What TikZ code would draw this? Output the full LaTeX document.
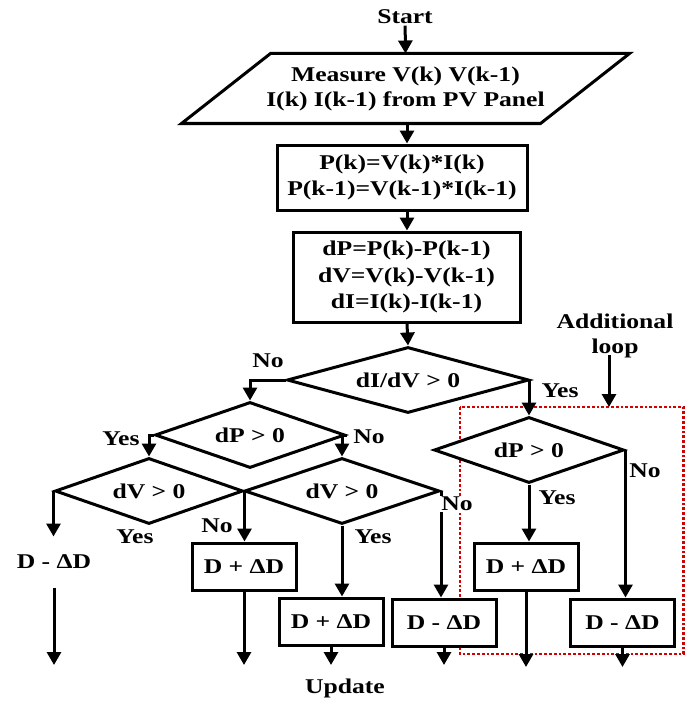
\documentclass[tikz,border=0pt]{standalone}
\usepackage{fontspec}
\setmainfont[FakeStretch=1.22]{Liberation Serif}
\usepackage{xcolor}
\usetikzlibrary{arrows.meta,shapes.geometric}
\definecolor{loopred}{RGB}{210,0,0}

\begin{document}
\begin{tikzpicture}[x=1pt, y=-1pt, line width=3pt,
  font=\fontsize{21}{26.5}\selectfont\bfseries,
  >={Triangle[width=14pt,length=13pt]},
  txt/.style={inner sep=0pt, align=center},
  procbox/.style={draw, fill=white, align=center, inner sep=0pt},
  decision/.style={draw, diamond, fill=white, inner sep=0pt, aspect=3, minimum height=66pt},
  dbox/.style={procbox, minimum width=104pt, minimum height=47pt}]
  \useasboundingbox (0,0) rectangle (685,706);

  \draw [loopred, line width=2.8pt, dash pattern=on 2.8pt off 2pt]
    (460,407) rectangle (683.5,654);

  \coordinate (axis) at (407,0);
  \coordinate (ground) at (0,665);
  \coordinate (ground2) at (0,667);
  \coordinate (loopin) at (609,407);

  \node [txt] (start) at (405,17) {Start};
  \node [txt, minimum width=445pt, minimum height=67pt] (meas) at (405.5,88.5)
    {Measure V(k) V(k-1)\\[-1.5pt]I(k) I(k-1) from PV Panel};
  \draw (meas.south west) -- ([xshift=89pt]meas.north west)
    -- (meas.north east) -- ([xshift=-89pt]meas.south east) -- cycle;
  \node [procbox, minimum width=250pt, minimum height=65pt] (pw) at (402,177.5)
    {P(k)=V(k)*I(k)\\P(k-1)=V(k-1)*I(k-1)};
  \node [procbox, minimum width=227pt, minimum height=90pt] (dd) at (406.5,277)
    {dP=P(k)-P(k-1)\\dV=V(k)-V(k-1)\\dI=I(k)-I(k-1)};

  \node [decision, minimum width=242pt] (d1) at (408,380) {dI/dV > 0};
  \node [decision, minimum width=190pt] (d2) at (250,435) {dP > 0};
  \node [decision, minimum width=188pt] (d3) at (149,491) {dV > 0};
  \node [decision, minimum width=195pt] (d4) at (342,491) {dV > 0};
  \node [decision, minimum width=190pt] (d5) at (529,450) {dP > 0};

  \node [txt, minimum height=48pt] (tL) at (54,562) {D - ΔD};
  \node [dbox] (bA) at (244,566.5) {D + ΔD};
  \node [dbox] (bB) at (331,621.5) {D + ΔD};
  \node [dbox] (bC) at (444,622.5) {D - ΔD};
  \node [dbox] (bD) at (526,566.5) {D + ΔD};
  \node [dbox] (bE) at (622.5,622.5) {D - ΔD};

  \node [txt] (upd) at (345,688) {Update};
  \node [txt, text depth=0pt] (add) at (615,334) {Additional\\[-1.5pt]loop};

  \draw [->] (start) -- (meas.north);
  \draw [->] (axis |- meas.south) -- (axis |- pw.north);
  \draw [->] (axis |- pw.south) -- (axis |- dd.north);
  \draw [->] (axis |- dd.south) -- (d1.north);
  \draw [->] (d1.west) -| (d2.north);
  \draw [->] (d2.west) -| (d3.north);
  \draw [->] (d2.east) -| (d4.north);
  \draw [->] (d3.west) -- (d3.west |- tL.north);
  \draw [->] (tL.south) -- (tL.south |- ground);
  \draw [->] (d3.east) -- (d3.east |- bA.north);
  \draw [->] (bA.south) -- (bA.south |- ground);
  \draw [->] (d4.south) -- (d4.south |- bB.north);
  \draw [->] (bB.south) -- (bB.south |- ground);
  \draw [->] (d4.east) -- (d4.east |- bC.north);
  \draw [->] (bC.south) -- (bC.south |- ground);
  \draw [->] (d1.east) -| (d5.north);
  \draw [->] (d5.south) -- (d5.south |- bD.north);
  \draw [->] (d5.east) -- (d5.east |- bE.north);
  \draw [->] (bD.south) -- (bD.south |- ground2);
  \draw [->] (bE.south) -- (bE.south |- ground2);
  \draw [->] (add.south -| loopin) -- (loopin);

  \node [txt] (no1) at (268,361) {No};
  \node [txt] (yes1) at (121,439) {Yes};
  \node [txt] (no2) at (369,437) {No};
  \node [txt] (yes2) at (135,537) {Yes};
  \node [txt] (no3) at (217,526) {No};
  \node [txt] (yes3) at (373,537) {Yes};
  \node [txt, fill=white, inner sep=1pt] (no4) at (457,504) {No};
  \node [txt] (yes4) at (560,391) {Yes};
  \node [txt] (no5) at (645,471) {No};
  \node [txt] (yes5) at (557,498) {Yes};
\end{tikzpicture}
\end{document}
